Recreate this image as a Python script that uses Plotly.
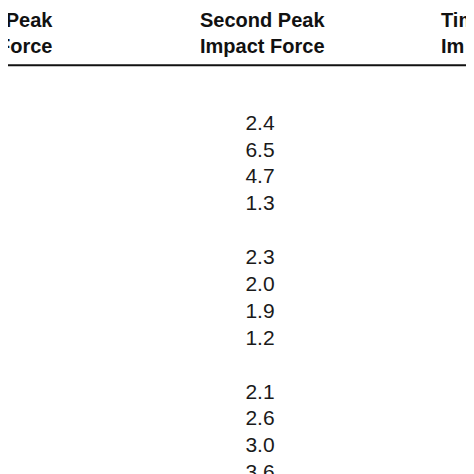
import plotly.graph_objects as go

values = ["2.4", "6.5", "4.7", "1.3", "", "2.3", "2.0", "1.9", "1.2", "", "2.1", "2.6", "3.0", "3.6"]
col_x = 252
headers = [("Peak<br>Force", 47, "right"), ("Second Peak<br>Impact Force", 254, "center"), ("Time<br>Im", 431, "left")]

rows = list(range(len(values)))
fig = go.Figure(go.Scatter(
    x=[col_x] * len(values), y=rows, mode="text", text=values,
    textfont=dict(family="Liberation Sans, Arial", size=21, color="#1a1a1a"),
    hoverinfo="skip", cliponaxis=False))

for txt, x, al in headers:
    t = "<b>" + txt.replace("<br>", "</b><br><b>") + "</b>"
    fig.add_annotation(x=x, y=-3.4, text=t, showarrow=False, xanchor=al,
                       align=al, font=dict(family="Liberation Sans, Arial", size=20, color="#111"))
fig.add_shape(type="line", x0=0, x1=474, y0=-2.2, y1=-2.2, line=dict(color="#111", width=2))

fig.update_layout(width=474, height=474, margin=dict(l=0, r=0, t=0, b=0),
                  plot_bgcolor="white", paper_bgcolor="white", showlegend=False)
fig.update_xaxes(range=[0, 474], visible=False)
fig.update_yaxes(range=[13.30, -4.33], visible=False)
fig.write_html("out.html")
